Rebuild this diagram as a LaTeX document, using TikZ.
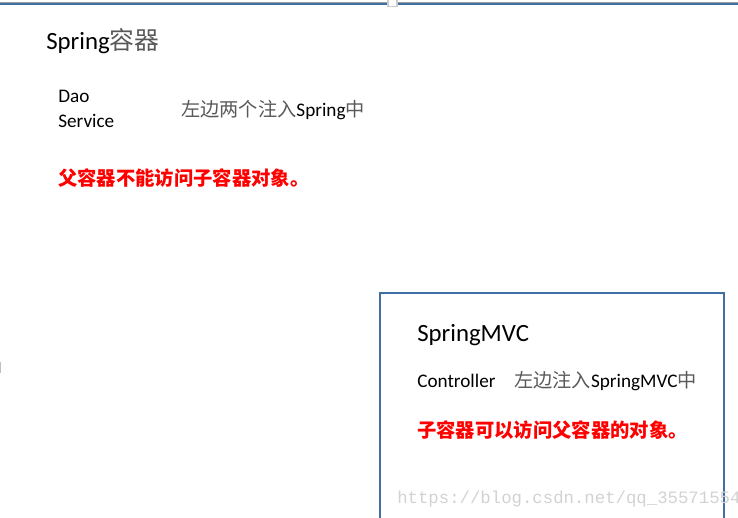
\documentclass[tikz,border=0pt]{standalone}
\usepackage{fontspec}
\setmainfont{Carlito}
\newfontfamily\cjk{Noto Sans CJK SC}
\newfontfamily\wmfont{Liberation Mono}
\usepackage{xcolor}
\definecolor{framblue}{HTML}{3F6FA3}
\definecolor{rulegray}{HTML}{9AA0A8}
\definecolor{hangray}{HTML}{595959}
\definecolor{notered}{HTML}{FF0000}

\tikzset{
    txt/.style={anchor=base west, inner sep=0pt, text=black},
    head/.style={txt, font=\fontsize{18.6}{20}\selectfont},
    body/.style={txt, font=\fontsize{14.4}{16}\selectfont},
    note/.style={txt, text=notered, font=\cjk\bfseries\fontsize{14.5}{17}\selectfont},
    wmark/.style={txt, text=gray!35, font=\wmfont\fontsize{13}{15}\selectfont}
}
\newcommand{\zh}[1]{{\cjk\color{hangray}#1}}

\begin{document}
\begin{tikzpicture}[x=0.75pt, y=-0.75pt]
        \useasboundingbox (0, 0) rectangle (738, 517);
        % Page edge
        \draw [rulegray, line width=1pt] (0, 2.5) -- (738, 2.5);
        \draw [framblue, line width=0.8pt] (0, 4) -- (738, 4);
        \draw [gray!40, fill=white, line width=0.8pt] (388, -1) rectangle (397, 6.5);
        \draw [gray!50, line width=1.2pt] (0.5, 362) -- (0.5, 373);
        % Parent
        \node [head] (spr) at (46, 50) {Spring\zh{容器}};
        \node [body] (dao) at (58, 103) {Dao};
        \node [body] (svc) at (58, 127) {Service};
        \node [body] (inj) at (181, 116) {\zh{左边两个注入}Spring\zh{中}};
        \node [note] (pnote) at (58, 185) {父容器不能访问子容器对象。};
        % Child
        \draw [framblue, line width=1.1pt] (380, 530) -- (380, 293) -- (724, 293) -- (724, 530);
        \node [head] (mvc) at (417, 341) {SpringMVC};
        \node [body] (ctl) at (417, 387) {Controller};
        \node [body] (inj2) at (514, 387) {\zh{左边注入}SpringMVC\zh{中}};
        \node [note] (cnote) at (417, 437) {子容器可以访问父容器的对象。};
        % Watermark
        \node [wmark] (url) at (397, 503) {https://blog.csdn.net/qq\_35571554};
    \end{tikzpicture}
\end{document}
